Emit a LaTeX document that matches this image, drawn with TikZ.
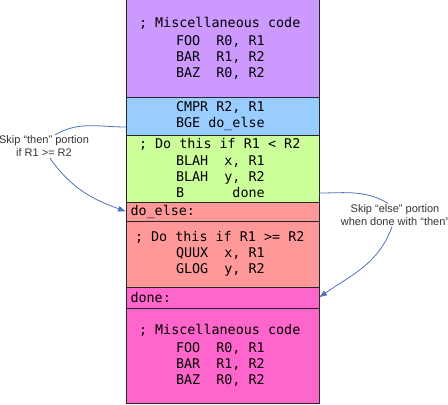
\documentclass[tikz,border=0pt]{standalone}
\usepackage{fontspec}
\setmainfont{Liberation Sans}
\setmonofont{DejaVu Sans Mono}
\usetikzlibrary{positioning,arrows.meta}
\definecolor{colMisc}{RGB}{204,153,255}
\definecolor{colCmp}{RGB}{153,204,255}
\definecolor{colThen}{RGB}{204,255,153}
\definecolor{colElse}{RGB}{255,153,153}
\definecolor{colDone}{RGB}{255,102,204}
\definecolor{colLink}{RGB}{79,113,189}
\newcommand{\codeind}{\hspace*{45.5pt}}
\newcommand{\gap}[1]{\hspace*{#1\fontcharwd\font`\0}}

\begin{document}
\begin{tikzpicture}[x=1pt, y=1pt,
    every node/.style={align=left},
    block/.style={draw=black!85, line width=0.9pt, minimum width=193pt, text width=184pt, inner xsep=4.5pt, inner ysep=0pt, outer sep=0pt, font=\ttfamily\fontsize{13.4}{16}\selectfont},
    note/.style={align=center, inner sep=1pt, text=black!80, font=\fontsize{11}{13}\selectfont},
    link/.style={draw=colLink, line width=0.8pt}
]
    \useasboundingbox (0,0) rectangle (448,-405);

    \node[block, fill=colMisc, minimum height=98pt] (misc) at (222.5,-48) {\hspace*{8.5pt};\gap1Miscellaneous\gap1code\\[2pt]
        \codeind FOO\gap2R0,\gap1R1\\
        \codeind BAR\gap2R1,\gap1R2\\
        \codeind BAZ\gap2R0,\gap1R2};
    \node[block, fill=colCmp, minimum height=38pt, below=0pt of misc] (cmp) {\codeind CMPR\gap1R2,\gap1R1\\
        \codeind BGE\gap1do\_else};
    \node[block, fill=colThen, minimum height=67pt, below=0pt of cmp] (then) {\hspace*{8.5pt};\gap1Do\gap1this\gap1if\gap1R1\gap1<\gap1R2\\[1pt]
        \codeind BLAH\gap2x,\gap1R1\\
        \codeind BLAH\gap2y,\gap1R2\\
        \codeind B\gap6done};
    \node[block, fill=colElse, minimum height=19pt, below=0pt of then] (elselbl) {do\_else:};
    \node[block, fill=colElse, minimum height=66pt, below=0pt of elselbl] (elsebody) {\hspace*{4.5pt};\gap1Do\gap1this\gap1if\gap1R1\gap1>=\gap1R2\\
        \codeind QUUX\gap2x,\gap1R1\\
        \codeind GLOG\gap2y,\gap1R2};
    \node[block, fill=colDone, minimum height=21pt, below=0pt of elsebody] (donelbl) {done:};
    \node[block, fill=colDone, minimum height=95.5pt, below=0pt of donelbl] (misc2) {\hspace*{8.5pt};\gap1Miscellaneous\gap1code\\[2pt]
        \codeind FOO\gap2R0,\gap1R1\\
        \codeind BAR\gap2R1,\gap1R2\\
        \codeind BAZ\gap2R0,\gap1R2};

    \node[note] (skipthen) at (44,-146.5) {Skip “then” portion\\if R1 >= R2};
    \node[note] (skipelse) at (395,-215) {Skip “else” portion\\when done with “then”};

    \draw[link] ([yshift=-11pt]cmp.west) to[out=180,in=30] ([xshift=11pt]skipthen.north);
    \draw[link,-{Latex[length=8pt,width=6pt]}] ([xshift=6pt]skipthen.south) to[out=-55,in=160] (elselbl.west);
    \draw[link] ([yshift=-24.5pt]then.east) to[out=0,in=150] ([xshift=-7pt]skipelse.north);
    \draw[link,-{Latex[length=8pt,width=6pt]}] ([xshift=-3pt]skipelse.south) to[out=-110,in=35] (donelbl.east);
\end{tikzpicture}
\end{document}
